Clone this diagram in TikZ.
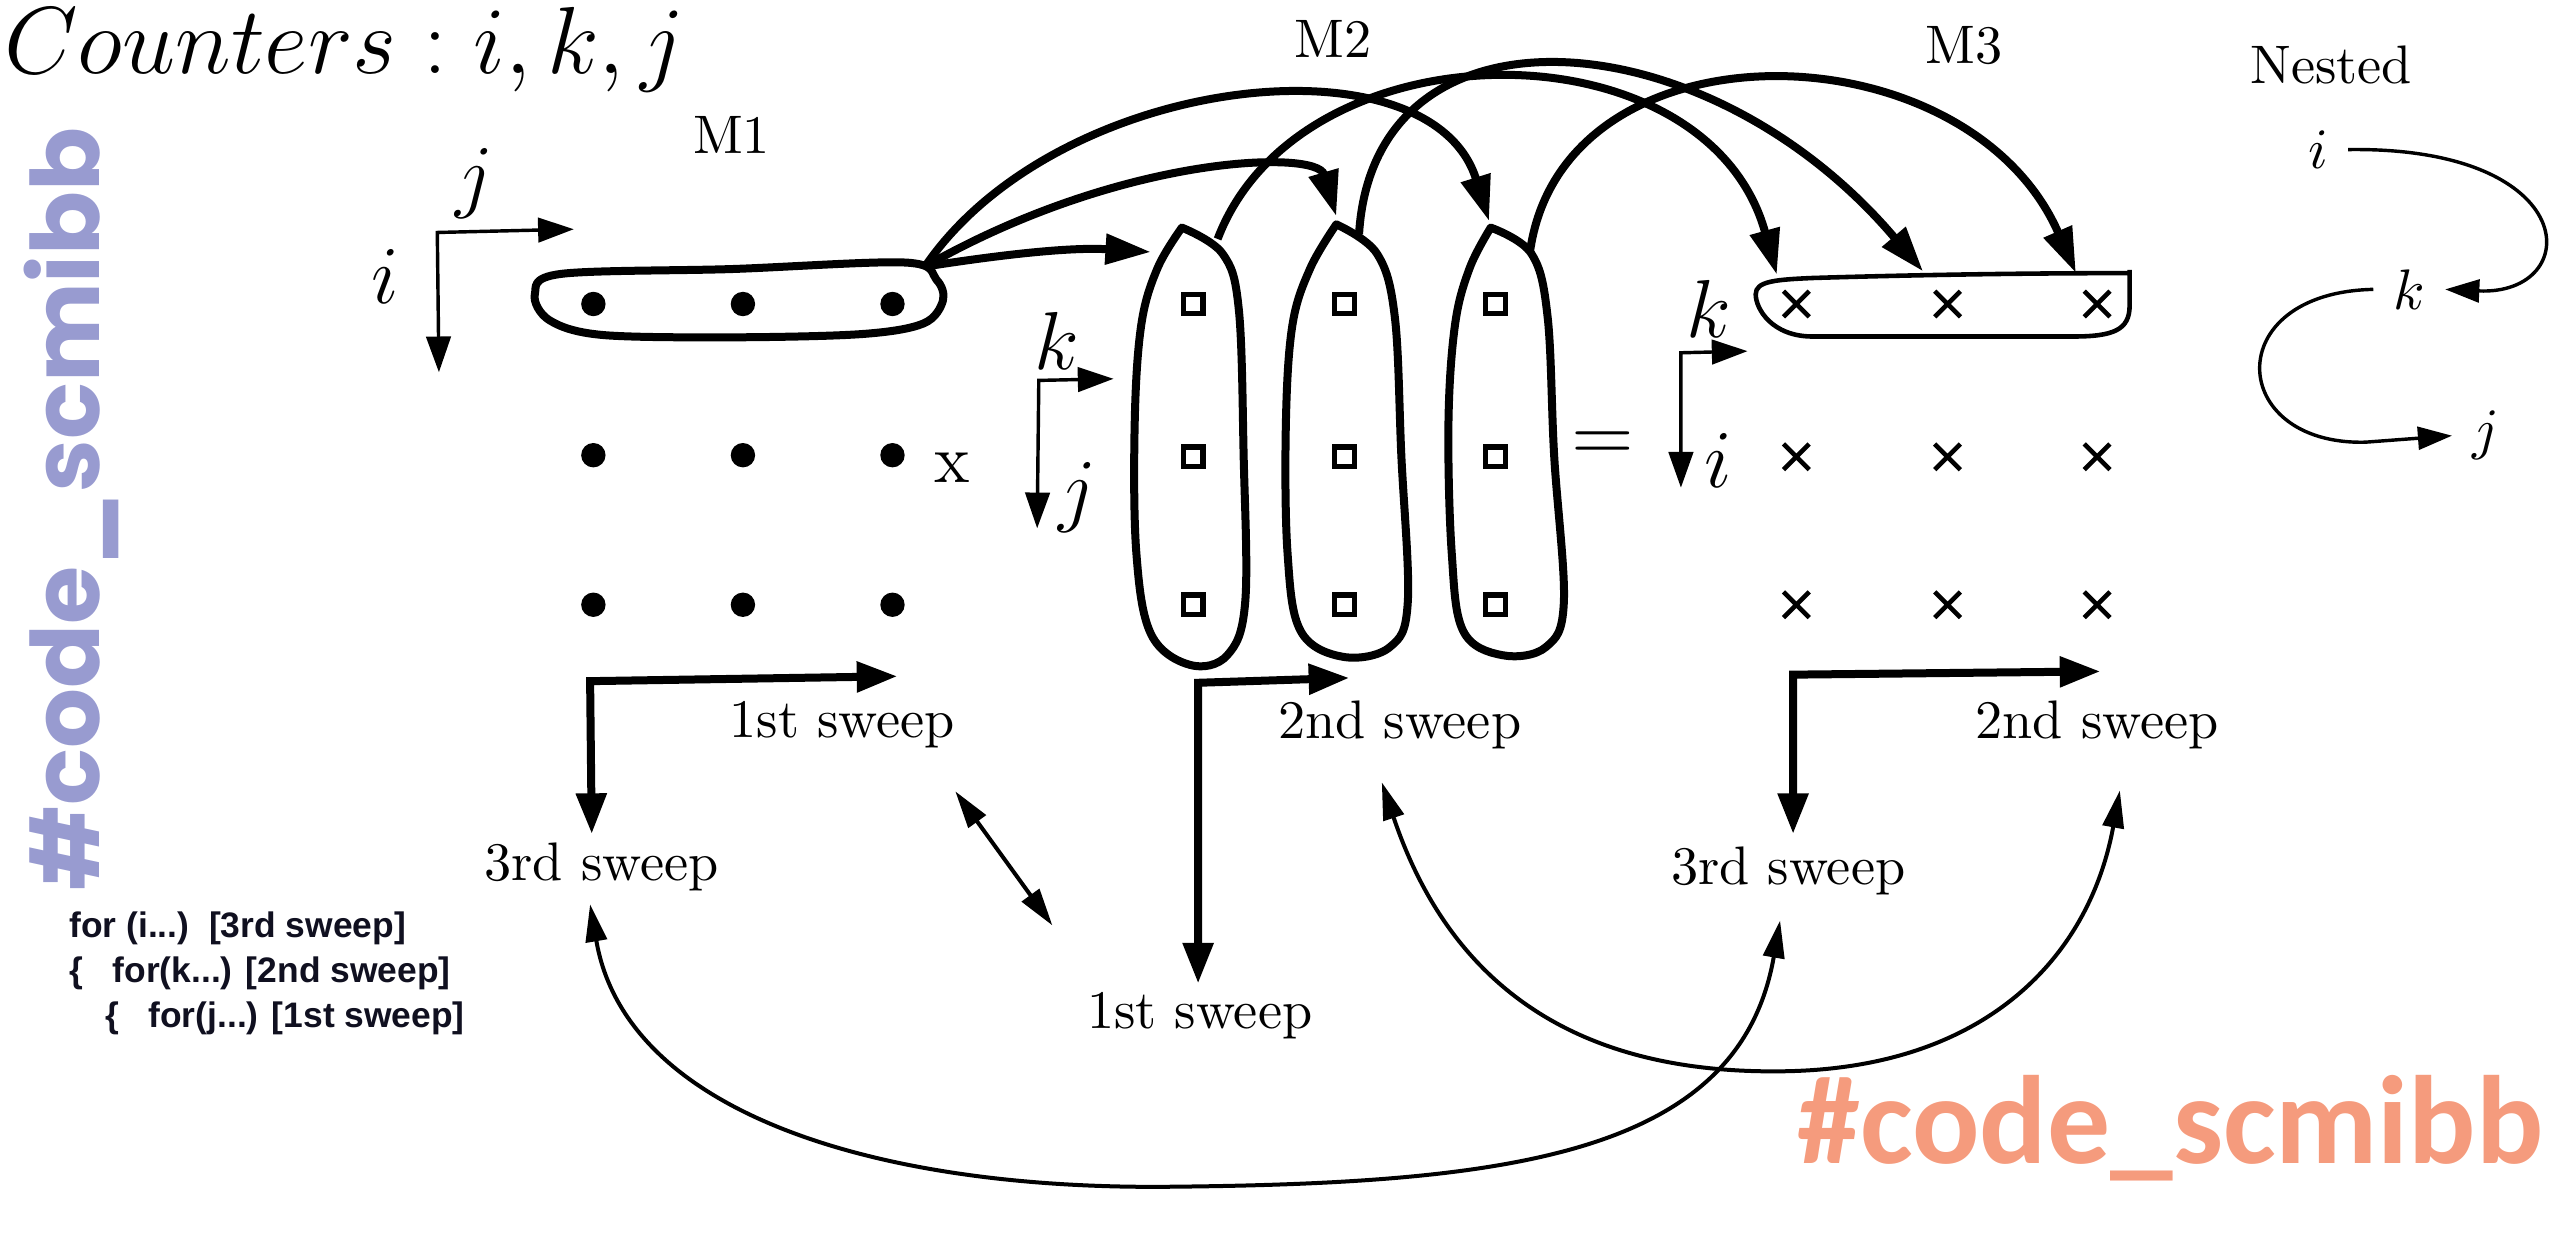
\documentclass[tikz,border=0pt]{standalone}
\usepackage{fontspec}
\usetikzlibrary{arrows.meta,shapes.misc,calc}
\newfontfamily\codefont{Liberation Sans}
\newfontfamily\tagfont{Poppins}
\newfontfamily\tagfontb{Carlito}
\definecolor{lav}{HTML}{989BD0}
\definecolor{tagorange}{HTML}{F59B7D}
\definecolor{codeink}{HTML}{101020}

\begin{document}
\begin{tikzpicture}[
  y=-1cm,
  dot/.style={circle, fill=black, inner sep=0pt, minimum size=1.5mm},
  sq/.style={draw, line width=0.9pt, inner sep=0pt, minimum size=1.2mm},
  crs/.style={cross out, draw, line width=0.8pt, inner sep=0pt, minimum size=1.3mm},
  lbl/.style={font=\fontsize{9.5}{11}\selectfont},
  idx/.style={font=\fontsize{14}{16}\selectfont},
  nest/.style={font=\fontsize{10}{12}\selectfont},
  loopline/.style={line width=1.4pt, line join=round},
  bigarr/.style={-{Triangle[length=2.8mm,width=1.8mm]}, line width=1.4pt},
  sweeparr/.style={{Triangle[length=2.5mm,width=1.8mm]}-{Triangle[length=2.5mm,width=1.8mm]}, line width=1.4pt},
  axisarr/.style={{Triangle[length=2.2mm,width=1.5mm]}-{Triangle[length=2.2mm,width=1.5mm]}, line width=0.6pt},
  sweeplink/.style={{Triangle[length=2.3mm,width=1.3mm]}-{Triangle[length=2.3mm,width=1.3mm]}, line width=0.7pt},
  nestarr/.style={-{Triangle[length=2.1mm,width=1.4mm]}, line width=0.6pt},
]
\useasboundingbox (0,0) rectangle (15.68,7.59);

% title, tags and loop code
\node[anchor=base west, inner sep=0pt, scale=0.965, font=\fontsize{17}{20}\selectfont] (title) at (0.02,0.45) {$Counters : i,k,j$};
\node[rotate=90, anchor=base, inner sep=0pt, text=lav, font=\tagfont\bfseries\fontsize{16.5}{19}\selectfont] (tagl) at (0.615,3.13) {\#code\_scmibb};
\node[anchor=base west, inner sep=0pt, text=tagorange, font=\tagfontb\bfseries\fontsize{22}{25}\selectfont] (tagr) at (11.05,7.16) {\#code\_scmibb};
\node[anchor=north west, inner sep=0pt, align=left, text=codeink, font=\codefont\bfseries\fontsize{6.2}{7.9}\selectfont] (code) at (0.42,5.60) {for (i...)\ \ [3rd sweep]\\\{\ \ \ for(k...) [2nd sweep]\\\hspace{0.22cm}\{\ \ \ for(j...) [1st sweep]};

\node[lbl] (m1) at (4.50,0.83) {M1};
\node[lbl] (m2) at (8.20,0.24) {M2};
\node[lbl] (m3) at (12.08,0.28) {M3};
\node[lbl] (nested) at (14.34,0.40) {Nested};

% matrix entries
\foreach \r [count=\ri] in {1.87,2.80,3.72}
  \foreach \c [count=\ci] in {3.65,4.57,5.49}
    \node[dot] (a\ri\ci) at (\c,\r) {};
\foreach \r [count=\ri] in {1.87,2.81,3.72}
  \foreach \c [count=\ci] in {7.34,8.27,9.20}
    \node[sq] (b\ri\ci) at (\c,\r) {};
\foreach \r [count=\ri] in {1.87,2.81,3.72}
  \foreach \c [count=\ci] in {11.05,11.98,12.90}
    \node[crs] (c\ri\ci) at (\c,\r) {};

\node[font=\fontsize{12}{14}\selectfont] (times) at (5.86,2.88) {x};
\node[idx] (eq) at (9.86,2.75) {$=$};

% index axes
\coordinate (o1) at (2.69,1.43);
\coordinate (o1r) at (3.53,1.41);
\coordinate (o1d) at (2.70,2.29);
\draw[axisarr] (o1d) -- (o1) -- (o1r);
\node[idx] (lj1) at (2.92,1.13) {$j$};
\node[idx] (li1) at (2.37,1.70) {$i$};

\coordinate (o2) at (6.39,2.34);
\coordinate (o2r) at (6.85,2.33);
\coordinate (o2d) at (6.38,3.25);
\draw[axisarr] (o2d) -- (o2) -- (o2r);
\node[idx] (lk2) at (6.50,2.10) {$k$};
\node[idx] (lj2) at (6.63,3.06) {$j$};

\coordinate (o3) at (10.34,2.17);
\coordinate (o3r) at (10.75,2.16);
\coordinate (o3d) at (10.34,3.00);
\draw[axisarr] (o3d) -- (o3) -- (o3r);
\node[idx] (lk3) at (10.51,1.90) {$k$};
\node[idx] (li3) at (10.57,2.83) {$i$};

% loops round the rows / columns
\draw[loopline] plot[smooth cycle, tension=0.55] coordinates {(3.45,1.685) (4.50,1.655) (5.57,1.615) (5.76,1.72) (5.80,1.85) (5.68,1.99) (5.30,2.055) (4.50,2.075) (3.70,2.06) (3.38,1.97) (3.29,1.81)};
\draw[loopline] plot[smooth, tension=0.6] coordinates {(7.27,1.40) (7.52,1.56) (7.62,1.90) (7.65,2.80) (7.66,3.70) (7.55,4.03) (7.32,4.09) (7.08,3.90) (6.99,3.40) (6.98,2.60) (7.02,2.00) (7.12,1.65) (7.27,1.40)} -- cycle;
\draw[loopline] plot[smooth, tension=0.6] coordinates {(8.22,1.38) (8.47,1.56) (8.58,1.95) (8.62,2.80) (8.66,3.70) (8.55,3.98) (8.26,4.04) (8.00,3.88) (7.92,3.40) (7.91,2.60) (7.95,2.00) (8.06,1.65) (8.22,1.38)} -- cycle;
\draw[loopline] plot[smooth, tension=0.6] coordinates {(9.17,1.40) (9.42,1.56) (9.52,1.95) (9.56,2.80) (9.62,3.70) (9.51,3.98) (9.24,4.03) (9.00,3.88) (8.93,3.40) (8.91,2.60) (8.95,2.00) (9.04,1.65) (9.17,1.40)} -- cycle;
\draw[line width=0.8pt] (13.10,1.66) -- (13.10,1.88) .. controls (13.10,2.03) and (13.00,2.07) .. (12.75,2.07) -- (11.15,2.07) .. controls (10.90,2.07) and (10.80,1.90) .. (10.80,1.81) .. controls (10.80,1.73) and (10.92,1.72) .. (11.15,1.71) .. controls (11.80,1.69) and (12.50,1.68) .. (13.10,1.68);

% ends of the thick arcs
\coordinate (p1) at (5.69,1.64);
\coordinate (t1) at (7.08,1.55);
\coordinate (t2) at (8.22,1.33);
\coordinate (t3) at (9.16,1.36);
\coordinate (u1) at (7.49,1.47);
\coordinate (u2) at (8.36,1.44);
\coordinate (u3) at (9.41,1.56);
\coordinate (v1) at (10.93,1.69);
\coordinate (v2) at (11.83,1.67);
\coordinate (v3) at (12.77,1.68);

\draw[bigarr] (p1) .. controls (6.2,1.56) and (6.6,1.52) .. (t1);
\draw[bigarr] (p1) .. controls (6.9,0.95) and (8.1,0.92) .. (t2);
\draw[bigarr] (p1) .. controls (6.5,0.45) and (8.8,0.20) .. (t3);
\draw[bigarr] (u1) .. controls (8.0,0.13) and (10.5,0.13) .. (v1);
\draw[bigarr] (u2) .. controls (8.45,-0.05) and (10.5,0.10) .. (v2);
\draw[bigarr] (u3) .. controls (9.6,0.10) and (12.1,0.15) .. (v3);

% sweeps
\node[lbl] (s1a) at (5.18,4.46) {1st sweep};
\node[lbl] (s3a) at (3.70,5.33) {3rd sweep};
\node[lbl] (s2b) at (8.61,4.46) {2nd sweep};
\node[lbl] (s1b) at (7.38,6.25) {1st sweep};
\node[lbl] (s2c) at (12.90,4.46) {2nd sweep};
\node[lbl] (s3c) at (11.00,5.36) {3rd sweep};

\coordinate (q1) at (3.63,4.19);
\coordinate (q1r) at (5.52,4.16);
\coordinate (q1d) at (3.64,5.13);
\coordinate (q2) at (7.37,4.20);
\coordinate (q2r) at (8.30,4.17);
\coordinate (q2d) at (7.37,6.05);
\coordinate (q3) at (11.03,4.15);
\coordinate (q3r) at (12.92,4.13);
\coordinate (q3d) at (11.03,5.13);
\draw[sweeparr] (q1d) -- (q1) -- (q1r);
\draw[sweeparr] (q2d) -- (q2) -- (q2r);
\draw[sweeparr] (q3d) -- (q3) -- (q3r);

\draw[sweeplink] ([shift={(-0.12,0.14)}]s1a.south east) -- ([shift={(-0.09,-0.29)}]s1b.north west);
\draw[sweeplink] ([shift={(-0.07,-0.04)}]s3a.south) .. controls (3.85,6.85) and (5.4,7.32) .. (7.2,7.30) .. controls (9.3,7.28) and (10.7,7.10) .. ([shift={(-0.05,0.03)}]s3c.south);
\draw[sweeplink] ([shift={(-0.11,0.08)}]s2b.south) .. controls (9.0,6.3) and (10.0,6.6) .. (10.95,6.59) .. controls (12.2,6.58) and (12.85,5.9) .. ([shift={(0.14,0.13)}]s2c.south);

% nesting order
\node[nest] (ni) at (14.26,0.92) {$i$};
\node[nest] (nk) at (14.82,1.78) {$k$};
\node[nest] (nj) at (15.29,2.68) {$j$};
\draw[nestarr] (ni.east) .. controls (15.9,0.90) and (15.9,1.82) .. (nk.east);
\draw[nestarr] (nk.west) .. controls (13.65,1.80) and (13.7,2.74) .. (14.55,2.72) -- (nj.west);

\end{tikzpicture}
\end{document}
